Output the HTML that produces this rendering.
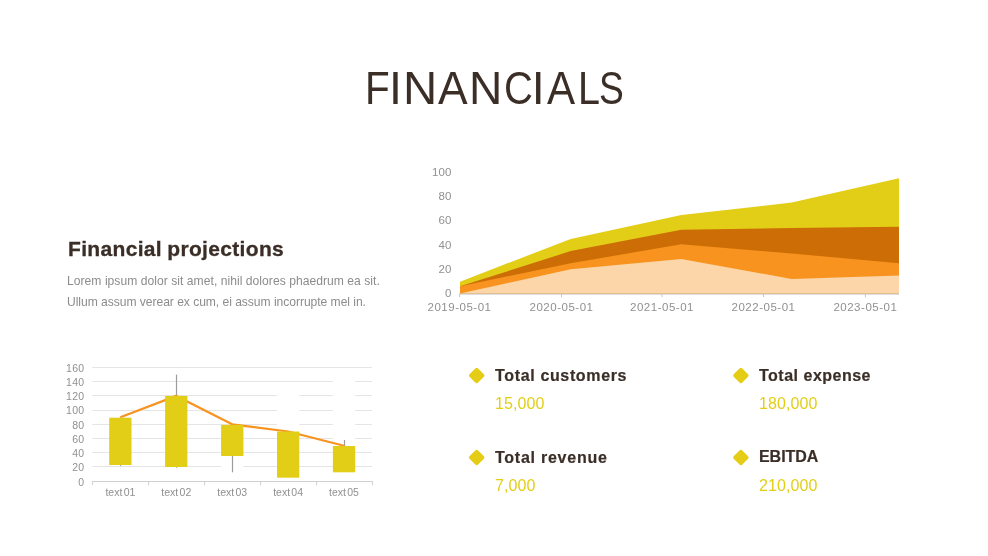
<!DOCTYPE html>
<html lang="en"><head><meta charset="utf-8"><title>Financials</title>
<style>
html,body{margin:0;padding:0;background:#fff;}
body{width:988px;height:556px;position:relative;overflow:hidden;font-family:"Liberation Sans",sans-serif;}
.t{position:absolute;white-space:nowrap;margin:0;line-height:1;}
#title{left:0;top:64.5px;font-size:46.5px;color:#3a2e27;font-weight:400;}
#title span{position:absolute;top:0;display:block;transform-origin:0 0;}
#h2{left:68px;top:238px;font-size:21px;font-weight:700;color:#3a2e27;letter-spacing:0.33px;word-spacing:-0.9px;-webkit-text-stroke:0.3px #3a2e27;}
.body{left:67px;font-size:12.1px;color:#8c8c8c;}
.lab{font-size:16px;font-weight:700;color:#3a2e27;-webkit-text-stroke:0.2px #3a2e27;}
.val{font-size:16px;color:#E3CE17;letter-spacing:0.1px;}
svg{position:absolute;left:0;top:0;}
.al{font-family:"Liberation Sans",sans-serif;font-size:11.5px;fill:#909090;}
.bl{font-family:"Liberation Sans",sans-serif;font-size:10.5px;fill:#909090;}
</style></head><body>
<svg width="988" height="556" viewBox="0 0 988 556">
<g id="area">
<polygon points="460.0,293.6 460.0,281.7 570.7,238.9 681.3,215.1 791.7,202.5 899.0,178.2 899.0,293.6" fill="#E3CE17"/>
<polygon points="460.0,293.6 460.0,286.3 570.7,251.1 681.3,229.7 791.7,228.0 899.0,226.8 899.0,293.6" fill="#CC6D06"/>
<polygon points="460.0,293.6 460.0,286.3 570.7,263.2 681.3,244.3 791.7,253.5 899.0,263.2 899.0,293.6" fill="#F7931E"/>
<polygon points="460.0,293.6 460.0,293.6 570.7,269.3 681.3,258.9 791.7,279.0 899.0,275.4 899.0,293.6" fill="#FCD5A8"/>
<line x1="459.5" y1="294.1" x2="899.0" y2="294.1" stroke="#c8c8c8" stroke-width="1"/>
<line x1="459.5" y1="293.6" x2="459.5" y2="297.1" stroke="#c8c8c8" stroke-width="1"/>
<line x1="561.5" y1="293.6" x2="561.5" y2="297.1" stroke="#c8c8c8" stroke-width="1"/>
<line x1="662" y1="293.6" x2="662" y2="297.1" stroke="#c8c8c8" stroke-width="1"/>
<line x1="763.5" y1="293.6" x2="763.5" y2="297.1" stroke="#c8c8c8" stroke-width="1"/>
<line x1="865.4" y1="293.6" x2="865.4" y2="297.1" stroke="#c8c8c8" stroke-width="1"/>
<text x="459.5" y="310.6" text-anchor="middle" class="al" style="letter-spacing:0.52px">2019-05-01</text>
<text x="561.5" y="310.6" text-anchor="middle" class="al" style="letter-spacing:0.52px">2020-05-01</text>
<text x="662" y="310.6" text-anchor="middle" class="al" style="letter-spacing:0.52px">2021-05-01</text>
<text x="763.5" y="310.6" text-anchor="middle" class="al" style="letter-spacing:0.52px">2022-05-01</text>
<text x="865.4" y="310.6" text-anchor="middle" class="al" style="letter-spacing:0.52px">2023-05-01</text>
<text x="451.3" y="297.3" text-anchor="end" class="al">0</text>
<text x="451.3" y="273.0" text-anchor="end" class="al">20</text>
<text x="451.3" y="248.7" text-anchor="end" class="al">40</text>
<text x="451.3" y="224.4" text-anchor="end" class="al">60</text>
<text x="451.3" y="200.1" text-anchor="end" class="al">80</text>
<text x="451.3" y="175.8" text-anchor="end" class="al">100</text>
</g>
<g id="bars">
<line x1="92.4" y1="466.5" x2="372.0" y2="466.5" stroke="#e5e5e5" stroke-width="1"/>
<line x1="92.4" y1="452.5" x2="372.0" y2="452.5" stroke="#e5e5e5" stroke-width="1"/>
<line x1="92.4" y1="438.5" x2="372.0" y2="438.5" stroke="#e5e5e5" stroke-width="1"/>
<line x1="92.4" y1="424.5" x2="372.0" y2="424.5" stroke="#e5e5e5" stroke-width="1"/>
<line x1="92.4" y1="410.5" x2="372.0" y2="410.5" stroke="#e5e5e5" stroke-width="1"/>
<line x1="92.4" y1="395.5" x2="372.0" y2="395.5" stroke="#e5e5e5" stroke-width="1"/>
<line x1="92.4" y1="381.5" x2="372.0" y2="381.5" stroke="#e5e5e5" stroke-width="1"/>
<line x1="92.4" y1="367.5" x2="372.0" y2="367.5" stroke="#e5e5e5" stroke-width="1"/>
<rect x="221.1" y="456.3" width="22.3" height="14.9" fill="#fff"/>
<rect x="277.0" y="391.7" width="22.3" height="39.8" fill="#fff"/>
<rect x="332.9" y="377.4" width="22.3" height="62.5" fill="#fff"/>
<line x1="120.5" y1="417.2" x2="120.5" y2="465.9" stroke="#9c9c9c" stroke-width="1.2"/>
<line x1="176.5" y1="374.6" x2="176.5" y2="467.7" stroke="#9c9c9c" stroke-width="1.2"/>
<line x1="232.5" y1="424.3" x2="232.5" y2="472.3" stroke="#9c9c9c" stroke-width="1.2"/>
<line x1="344.5" y1="440.0" x2="344.5" y2="472.0" stroke="#9c9c9c" stroke-width="1.2"/>
<polyline points="120.4,417.2 176.3,395.9 232.2,424.3 288.1,431.5 344.0,445.7" fill="none" stroke="#F7931E" stroke-width="2.2" stroke-linejoin="round"/>
<rect x="109.2" y="417.7" width="22.3" height="47.3" fill="#E3CE17"/>
<rect x="165.1" y="395.9" width="22.3" height="71.1" fill="#E3CE17"/>
<rect x="221.1" y="424.9" width="22.3" height="31.1" fill="#E3CE17"/>
<rect x="277.0" y="431.5" width="22.3" height="46.2" fill="#E3CE17"/>
<rect x="332.9" y="446.0" width="22.3" height="26.3" fill="#E3CE17"/>
<line x1="92.4" y1="481.5" x2="372.0" y2="481.5" stroke="#cfcfcf" stroke-width="1"/>
<line x1="92.5" y1="481.2" x2="92.5" y2="485.2" stroke="#cfcfcf" stroke-width="1"/>
<line x1="148.5" y1="481.2" x2="148.5" y2="485.2" stroke="#cfcfcf" stroke-width="1"/>
<line x1="204.5" y1="481.2" x2="204.5" y2="485.2" stroke="#cfcfcf" stroke-width="1"/>
<line x1="260.5" y1="481.2" x2="260.5" y2="485.2" stroke="#cfcfcf" stroke-width="1"/>
<line x1="316.5" y1="481.2" x2="316.5" y2="485.2" stroke="#cfcfcf" stroke-width="1"/>
<line x1="372.5" y1="481.2" x2="372.5" y2="485.2" stroke="#cfcfcf" stroke-width="1"/>
<text x="84.5" y="485.5" text-anchor="end" class="bl" style="letter-spacing:0.3px">0</text>
<text x="84.5" y="471.3" text-anchor="end" class="bl" style="letter-spacing:0.3px">20</text>
<text x="84.5" y="457.1" text-anchor="end" class="bl" style="letter-spacing:0.3px">40</text>
<text x="84.5" y="442.9" text-anchor="end" class="bl" style="letter-spacing:0.3px">60</text>
<text x="84.5" y="428.6" text-anchor="end" class="bl" style="letter-spacing:0.3px">80</text>
<text x="84.5" y="414.4" text-anchor="end" class="bl" style="letter-spacing:0.3px">100</text>
<text x="84.5" y="400.2" text-anchor="end" class="bl" style="letter-spacing:0.3px">120</text>
<text x="84.5" y="386.0" text-anchor="end" class="bl" style="letter-spacing:0.3px">140</text>
<text x="84.5" y="371.8" text-anchor="end" class="bl" style="letter-spacing:0.3px">160</text>
<text x="120.4" y="496.3" text-anchor="middle" class="bl" style="word-spacing:-1.6px">text 01</text>
<text x="176.3" y="496.3" text-anchor="middle" class="bl" style="word-spacing:-1.6px">text 02</text>
<text x="232.2" y="496.3" text-anchor="middle" class="bl" style="word-spacing:-1.6px">text 03</text>
<text x="288.1" y="496.3" text-anchor="middle" class="bl" style="word-spacing:-1.6px">text 04</text>
<text x="344.0" y="496.3" text-anchor="middle" class="bl" style="word-spacing:-1.6px">text 05</text>
</g>
<g id="diamonds">
<rect x="470.80" y="369.60" width="11.8" height="11.8" rx="1.6" ry="1.6" transform="rotate(45 476.7 375.5)" fill="#E4CD14"/>
<rect x="735.00" y="369.60" width="11.8" height="11.8" rx="1.6" ry="1.6" transform="rotate(45 740.9 375.5)" fill="#E4CD14"/>
<rect x="470.80" y="451.60" width="11.8" height="11.8" rx="1.6" ry="1.6" transform="rotate(45 476.7 457.5)" fill="#E4CD14"/>
<rect x="735.00" y="451.60" width="11.8" height="11.8" rx="1.6" ry="1.6" transform="rotate(45 740.9 457.5)" fill="#E4CD14"/>
</g>
</svg>
<h1 class="t" id="title"><span style="left:364.9px;transform:scaleX(0.870)">F</span><span style="left:389.1px;transform:scaleX(1.000)">I</span><span style="left:403.3px;transform:scaleX(1.019)">N</span><span style="left:437.7px;transform:scaleX(0.955)">A</span><span style="left:468.7px;transform:scaleX(0.992)">N</span><span style="left:503.5px;transform:scaleX(0.860)">C</span><span style="left:531.7px;transform:scaleX(1.000)">I</span><span style="left:546.9px;transform:scaleX(0.906)">A</span><span style="left:577.7px;transform:scaleX(0.850)">L</span><span style="left:598.6px;transform:scaleX(0.800)">S</span></h1>
<h2 class="t" id="h2">Financial projections</h2>
<p class="t body" style="top:275.2px;letter-spacing:0.04px">Lorem ipsum dolor sit amet, nihil dolores phaedrum ea sit.</p>
<p class="t body" style="top:295.7px;letter-spacing:-0.04px">Ullum assum verear ex cum, ei assum incorrupte mel in.</p>
<div class="t lab" style="left:495px;top:367.5px;letter-spacing:0.65px">Total customers</div>
<div class="t val" style="left:495px;top:396.3px">15,000</div>
<div class="t lab" style="left:759px;top:367.5px;letter-spacing:0.5px">Total expense</div>
<div class="t val" style="left:759px;top:396.3px">180,000</div>
<div class="t lab" style="left:495px;top:449.5px;letter-spacing:0.75px">Total revenue</div>
<div class="t val" style="left:495px;top:478.3px">7,000</div>
<div class="t lab" style="left:759px;top:449px;letter-spacing:-0.05px">EBITDA</div>
<div class="t val" style="left:759px;top:478.3px">210,000</div>
</body></html>
